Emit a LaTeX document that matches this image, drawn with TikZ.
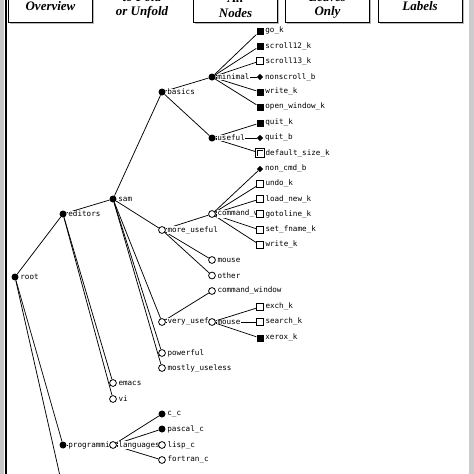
\documentclass[tikz,border=0pt]{standalone}
\usepackage{fontspec}
\setmainfont{Liberation Serif}
\newfontfamily\monof{DejaVu Sans Mono}
\usetikzlibrary{shapes.geometric,shadows}
\pgfdeclarelayer{bg}
\pgfdeclarelayer{edges}
\pgfsetlayers{bg,edges,main}
\tikzset{
  lbl/.style={font=\monof\fontsize{7.6}{8}\selectfont, fill=white, inner sep=0.2pt, label distance=1.3pt},
  fc/.style={circle, fill=black, inner sep=0, minimum size=7pt},
  oc/.style={circle, draw=black, line width=0.8pt, fill=white, inner sep=0, minimum size=6.8pt},
  fs/.style={rectangle, fill=black, inner sep=0, minimum size=7pt},
  os/.style={rectangle, draw=black, line width=0.8pt, fill=white, inner sep=0, minimum size=6.8pt},
  osb/.style={rectangle, draw=black, double, line width=0.6pt, double distance=1pt, fill=white, inner sep=0, minimum size=7.2pt},
  fd/.style={diamond, fill=black, inner sep=0, minimum size=6.5pt},
  edge/.style={line width=0.75pt, black},
  btn/.style={draw=black, line width=0.9pt, fill=white, minimum width=84pt, minimum height=28pt,
              drop shadow={shadow xshift=1.6pt, shadow yshift=-1.6pt, fill=gray!55, opacity=1}},
  btntext/.style={font=\bfseries\itshape\fontsize{13}{14.5}\selectfont, align=center, inner sep=0},
}
\begin{document}
\begin{tikzpicture}[x=1pt,y=-1pt]
\useasboundingbox (0,0) rectangle (474,474);
\clip (0,0) rectangle (474,474);
\begin{pgfonlayer}{bg}
  \fill[white] (0,0) rectangle (474,474);
\end{pgfonlayer}

% frame
\fill[gray!45] (0,0) rectangle (3.5,474);
\fill[black] (4.5,0) rectangle (6.5,474);
\fill[gray!40] (469,0) rectangle (474,474);

% buttons
\node[btn] (bov) at (50.5,8) {};
\node[btntext] (tov) at ([yshift=2pt]bov.center) {Overview};
\node[btntext] (tfold) at (142,5.5) {to Fold\\or Unfold};
\node[btn] (ball) at (235.5,8) {};
\node[btntext] (tall) at ([yshift=2.5pt]ball.center) {All\\Nodes};
\node[btn] (bleaves) at (327.5,8) {};
\node[btntext] (tleaves) at ([yshift=2.5pt]bleaves.center) {Leaves\\Only};
\node[btn] (blabels) at (420,8) {};
\node[btntext] (tlabels) at ([yshift=2pt]blabels.center) {Labels};

% tree nodes
\node[fc,label={[lbl]right:root}] (root) at (15,277) {};
\node[fc,label={[lbl]right:editors}] (editors) at (63,214) {};
\node[fc,label={[lbl]right:sam}] (sam) at (113,199) {};
\node[fc,label={[lbl]right:basics}] (basics) at (162,92) {};
\node[fc,label={[lbl]right:minimal}] (minimal) at (212,77) {};
\node[fc,label={[lbl]right:useful}] (useful) at (212,138) {};
\node[fs,label={[lbl]right:go\_k}] (gok) at (260,31) {};
\node[fs,label={[lbl]right:scroll12\_k}] (scrolla) at (260,46) {};
\node[os,label={[lbl]right:scroll13\_k}] (scrollb) at (260,61) {};
\node[fd,label={[lbl]right:nonscroll\_b}] (nonscroll) at (260,77) {};
\node[fs,label={[lbl]right:write\_k}] (writea) at (260,92) {};
\node[fs,label={[lbl]right:open\_window\_k}] (openw) at (260,107) {};
\node[fs,label={[lbl]right:quit\_k}] (quitk) at (260,123) {};
\node[fd,label={[lbl]right:quit\_b}] (quitb) at (260,138) {};
\node[osb,label={[lbl]right:default\_size\_k}] (defsize) at (260,153) {};
\node[fd,label={[lbl]right:non\_cmd\_b}] (noncmd) at (260,169) {};
\node[os,label={[lbl]right:undo\_k}] (undo) at (260,184) {};
\node[os,label={[lbl]right:load\_new\_k}] (loadnew) at (260,199) {};
\node[oc,label={[lbl]right:command\_w}] (cmdw) at (212,214) {};
\node[os,label={[lbl]right:gotoline\_k}] (gotoline) at (260,214) {};
\node[os,label={[lbl]right:set\_fname\_k}] (setf) at (260,230) {};
\node[os,label={[lbl]right:write\_k}] (writeb) at (260,245) {};
\node[oc,label={[lbl]right:more\_useful}] (moreu) at (162,230) {};
\node[oc,label={[lbl]right:mouse}] (mousea) at (212,260) {};
\node[oc,label={[lbl]right:other}] (other) at (212,275.5) {};
\node[oc,label={[lbl]right:command\_window}] (cmdwin) at (212,291) {};
\node[oc,label={[lbl]right:very\_usef}] (veryu) at (162,322) {};
\node[oc,label={[lbl]right:mouse}] (mouseb) at (212,322) {};
\node[os,label={[lbl]right:exch\_k}] (exch) at (260,307) {};
\node[os,label={[lbl]right:search\_k}] (search) at (260,322) {};
\node[fs,label={[lbl]right:xerox\_k}] (xerox) at (260,338) {};
\node[oc,label={[lbl]right:powerful}] (powerful) at (162,353) {};
\node[oc,label={[lbl]right:mostly\_useless}] (mostly) at (162,368) {};
\node[oc,label={[lbl]right:emacs}] (emacs) at (113,383) {};
\node[oc,label={[lbl]right:vi}] (vi) at (113,399) {};
\node[fc,label={[lbl]right:c\_c}] (cc) at (162,414) {};
\node[fc,label={[lbl]right:pascal\_c}] (pascal) at (162,429) {};
\node[fc,label={[lbl]right:programmi}] (prog) at (63,445) {};
\node[oc,label={[lbl]right:languages}] (lang) at (113,445) {};
\node[oc,label={[lbl]right:lisp\_c}] (lisp) at (162,445) {};
\node[oc,label={[lbl]right:fortran\_c}] (fortran) at (162,460) {};
\coordinate (offbot) at (62.5,487);

\begin{pgfonlayer}{edges}
\draw[edge] (root) -- (editors);
\draw[edge] (root) -- (prog);
\draw[edge] (root) -- (offbot);
\draw[edge] (editors) -- (sam);
\draw[edge] (editors) -- (emacs);
\draw[edge] (editors) -- (vi);
\draw[edge] (sam) -- (basics);
\draw[edge] (sam) -- (moreu);
\draw[edge] (sam) -- (veryu);
\draw[edge] (sam) -- (powerful);
\draw[edge] (sam) -- (mostly);
\draw[edge] (basics) -- (minimal);
\draw[edge] (basics) -- (useful);
\foreach \c in {gok,scrolla,scrollb,nonscroll,writea,openw}
  \draw[edge] (minimal) -- (\c);
\foreach \c in {quitk,quitb,defsize}
  \draw[edge] (useful) -- (\c);
\draw[edge] (moreu) -- (cmdw);
\draw[edge] (moreu) -- (mousea);
\draw[edge] (moreu) -- (other);
\foreach \c in {noncmd,undo,loadnew,gotoline,setf,writeb}
  \draw[edge] (cmdw) -- (\c);
\draw[edge] (veryu) -- (cmdwin);
\draw[edge] (veryu) -- (mouseb);
\foreach \c in {exch,search,xerox}
  \draw[edge] (mouseb) -- (\c);
\draw[edge] (prog) -- (lang);
\foreach \c in {cc,pascal,lisp,fortran}
  \draw[edge] (lang) -- (\c);
\end{pgfonlayer}
\end{tikzpicture}
\end{document}
